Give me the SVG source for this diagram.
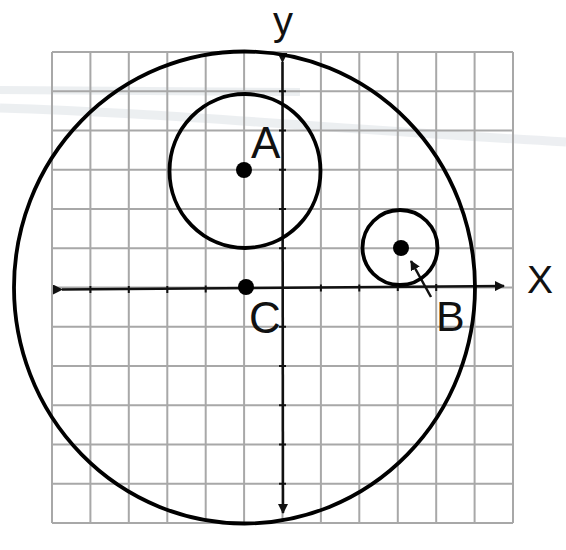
<svg xmlns="http://www.w3.org/2000/svg" width="566" height="550" viewBox="0 0 566 550">
  <style>
    .grid { stroke: #a8a8a8; stroke-width: 2; fill: none; }
    .curve { stroke: #000; stroke-width: 3.8; fill: none; }
    .axis { stroke: #111; stroke-width: 2.5; fill: none; }
    .tick { stroke: #111; stroke-width: 2; }
    .dot { fill: #000; }
    .lbl { font-family: "Liberation Sans", Arial, sans-serif; fill: #111; }
  </style>
  <defs>
    <marker id="ah" viewBox="0 0 10 10" refX="9" refY="5" markerWidth="4" markerHeight="4" orient="auto" markerUnits="strokeWidth">
      <path d="M0,0 L10,5 L0,10 Z" fill="#111"/>
    </marker>
  </defs>
  <rect width="566" height="550" fill="#ffffff"/>
  <g id="scan-smear" opacity="0.12" stroke="#6a7f96" fill="none">
    <path d="M0,90 L300,92" stroke-width="8"/>
    <path d="M0,108 C150,112 350,130 566,142" stroke-width="9"/>
  </g>
  <g id="grid" class="grid">
    <path d="M52,52V523 M90.4,52V523 M128.8,52V523 M167.3,52V523 M205.7,52V523 M244.1,52V523 M282.5,52V523 M320.9,52V523 M359.3,52V523 M397.8,52V523 M436.2,52V523 M474.6,52V523 M513,52V523"/>
    <path d="M52,52H513 M52,91.3H513 M52,130.5H513 M52,169.8H513 M52,209H513 M52,248.3H513 M52,287.5H513 M52,326.8H513 M52,366H513 M52,405.3H513 M52,444.5H513 M52,483.8H513 M52,523H513"/>
  </g>
  <g id="connectors">
    <g id="x-axis">
      <line class="axis" x1="62" y1="289.5" x2="504" y2="286" marker-start="url(#ah)" marker-end="url(#ah)"/>
      <path class="tick" d="M90.4,286v7 M128.8,286v7 M167.3,286v7 M205.7,285.5v7 M320.9,284.5v7 M359.3,284.5v7 M397.8,284v7 M436.2,284v7 M474.6,283.5v7"/>
    </g>
    <g id="y-axis">
      <line class="axis" x1="282.5" y1="62" x2="283" y2="513" marker-start="url(#ah)" marker-end="url(#ah)"/>
      <path class="tick" d="M279,91.3h7 M279,130.5h7 M279,169.8h7 M279,209h7 M279,248.3h7 M279,326.8h7 M279,366h7 M279,405.3h7 M279,444.5h7 M279,483.8h7"/>
    </g>
    <line id="arrow-B" class="axis" x1="431" y1="297" x2="411" y2="261" marker-end="url(#ah)"/>
  </g>
  <g id="circle-C">
    <ellipse class="curve" cx="244.5" cy="287.5" rx="230.5" ry="236"/>
    <circle class="dot" cx="246" cy="287" r="8"/>
    <text class="lbl" x="249" y="333" font-size="44">C</text>
  </g>
  <g id="circle-A">
    <ellipse class="curve" cx="245" cy="171" rx="75.5" ry="77"/>
    <circle class="dot" cx="244" cy="170" r="8"/>
    <text class="lbl" x="251" y="158" font-size="44">A</text>
  </g>
  <g id="circle-B">
    <circle class="curve" cx="400" cy="247.5" r="37.5"/>
    <circle class="dot" cx="401" cy="248" r="8"/>
    <text class="lbl" x="436" y="331" font-size="43">B</text>
  </g>
  <g id="axis-labels">
    <text class="lbl" x="527" y="293" font-size="39">X</text>
    <text class="lbl" x="273" y="35" font-size="40">y</text>
  </g>
</svg>
